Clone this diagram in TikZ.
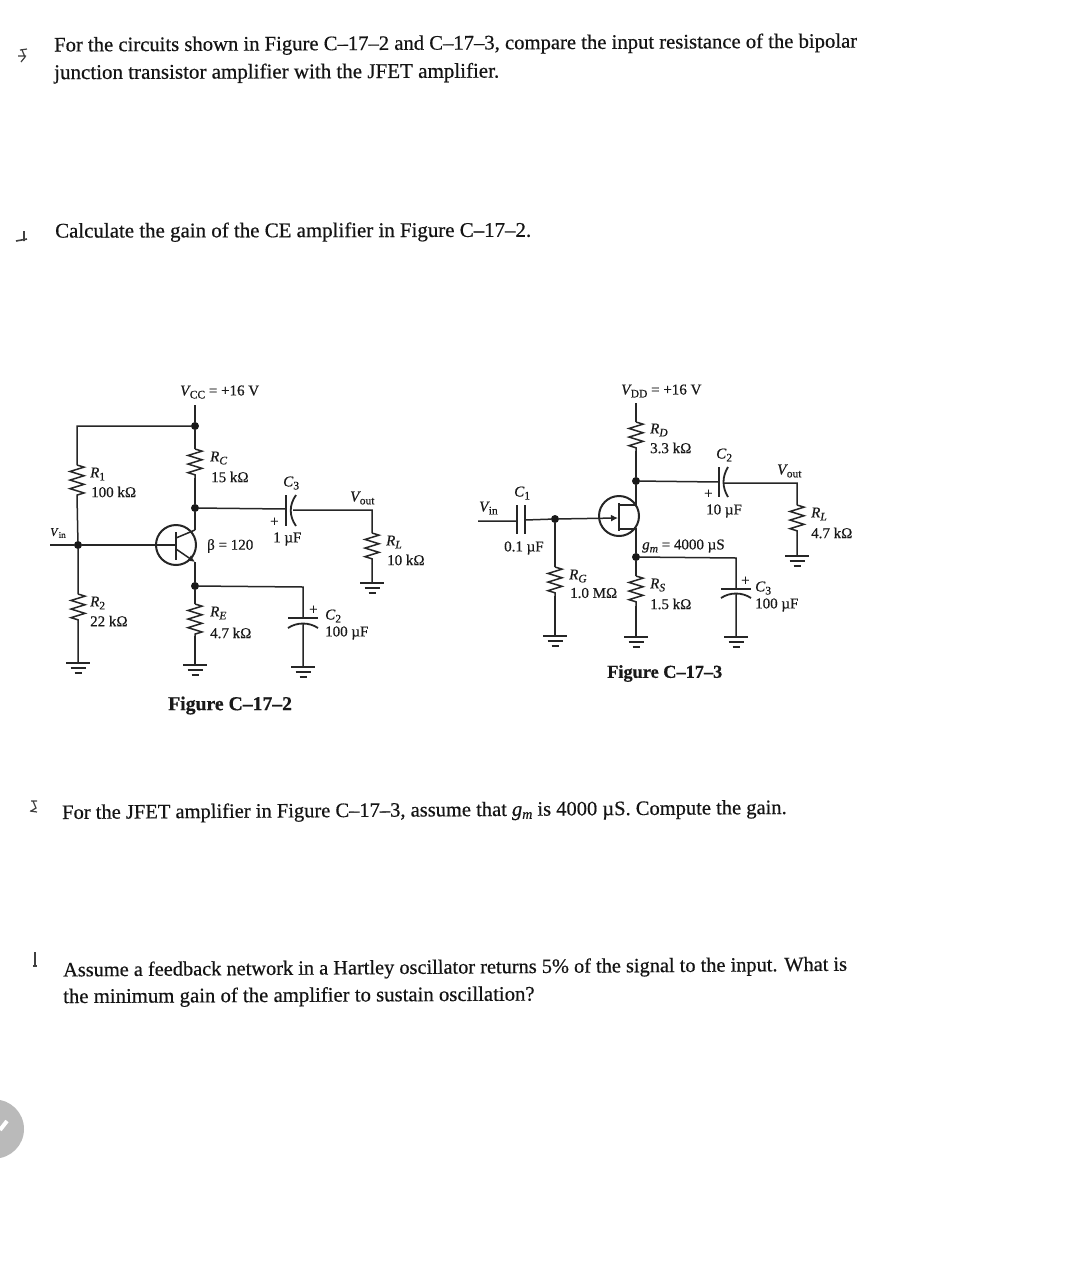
\documentclass[tikz,border=0pt]{standalone}
\usepackage{fontspec}
\setmainfont[RawFeature={embolden=0.5}]{Liberation Serif}
\usetikzlibrary{decorations.pathmorphing,arrows.meta}
\tikzset{
 x=1pt,y=-1pt,
 wire/.style={line width=1.5pt,line join=miter,black!85},
 res/.style={wire,decorate,decoration={zigzag,segment length=8.6pt,amplitude=7pt}},
 dotj/.style={circle,fill=black!90,inner sep=0pt,minimum size=8pt},
 lab/.style={inner sep=0pt,anchor=west,yshift=-1pt,font=\fontsize{15}{15}\selectfont,black!90},
 figcap/.style={inner sep=0pt,anchor=west,font=\fontsize{19.7}{22}\selectfont\bfseries,black!90},
 body/.style={inner sep=0pt,anchor=west,black!92},
 mark ink/.style={line width=1.2pt,black!75},
 bar/.style={wire,line width=2.8pt},
 plate/.style={wire,line width=1.8pt},
 gate/.style={wire,-{Latex[length=7pt,width=7pt]}},
}
\newcommand{\fs}[1]{\fontsize{#1}{#1}\selectfont}
\newcommand{\sbs}[1]{\raisebox{-3pt}{\fontsize{11.5}{11.5}\selectfont #1}}
\newcommand{\gnd}[1]{%
 \draw[wire,line width=1.7pt] ([xshift=-12pt]#1) -- ([xshift=12pt]#1);
 \draw[wire,line width=1.7pt] ([xshift=-7.5pt,yshift=-5pt]#1) -- ([xshift=7.5pt,yshift=-5pt]#1);
 \draw[wire,line width=1.7pt] ([xshift=-3.5pt,yshift=-10pt]#1) -- ([xshift=3.5pt,yshift=-10pt]#1);}
\newcommand{\vres}[2]{\draw[res] (#1) -- (#2);}
\begin{document}
\begin{tikzpicture}
\useasboundingbox (0,0) rectangle (1080,1262);
\fill[white] (0,0) rectangle (1080,1262);
% phone-overlay button
\fill[black!27] (-5.5,1129) circle (29.5);
\draw[white,line width=4pt] (0,1130) -- (7,1121);
% margin marks
\draw[mark ink] (20,50) -- (27,49) (22,50) -- (25,57) -- (21,62) (18,56) -- (26,56);
\draw[mark ink,line width=1.6pt] (16,241) -- (27,239) (24,231) -- (24,241);
\draw[mark ink] (31,801) -- (37,801) (33,801) -- (36,808) -- (31,811) (30,811) -- (37,812);
\draw[mark ink] (35,952) -- (35,965) (33,966) -- (37,966);
% text
\node[body,rotate=0.28] (t1a) at (54,46.5) {\fs{20.65}For the circuits shown in Figure C--17--2 and C--17--3, compare the input resistance of the bipolar};
\node[body,rotate=0.2] (t1b) at (54,74) {\fs{21}junction transistor amplifier with the JFET amplifier.};
\node[body,rotate=0.1] (t2) at (55,232.5) {\fs{20.9}Calculate the gain of the CE amplifier in Figure C--17--2.};
\node[body,rotate=0.4] (t3) at (62,814) {\fs{20.5}For the JFET amplifier in Figure C--17--3, assume that \textit{g\raisebox{-3pt}{\fs{14}m}} is 4000 µS. Compute the gain.};
\node[body,rotate=0.42] (t4a) at (63,971.5) {\fs{20.35}Assume a feedback network in a Hartley oscillator returns 5\% of the signal to the input. What is};
\node[body,rotate=0.3] (t4b) at (63,998) {\fs{20.75}the minimum gain of the amplifier to sustain oscillation?};
% ---- Left circuit ----
\coordinate (vcct) at (195,405);
\node[dotj] (jt) at (195,426) {};
\node[dotj] (jc) at (195,508) {};
\node[dotj] (je) at (195,586) {};
\node[dotj] (jb) at (78,545) {};
\coordinate (tl) at (77,426);
\coordinate (vin) at (50,545);
\coordinate (r1a) at (77,465); \coordinate (r1b) at (77,496);
\coordinate (r2a) at (78,594); \coordinate (r2b) at (78,622);
\coordinate (g1) at (78,663);
\coordinate (rca) at (195,449); \coordinate (rcb) at (195,478);
\coordinate (rea) at (195,604); \coordinate (reb) at (195,636);
\coordinate (g2) at (195,665);
\node[draw,wire,line width=2pt,circle,minimum size=40pt,inner sep=0pt] (q1) at (176,545) {};
\coordinate (cc) at (195,530); \coordinate (ee) at (195,562);
\draw[wire] (vcct) -- (jt) -- (rca) (rcb) -- (jc) -- (cc);
\draw[wire] (jt) -- (tl) -- (r1a) (r1b) -- (jb) -- (r2a) (r2b) -- (g1);
\draw[wire] (vin) -- (jb) -- (176,545);
\vres{r1a}{r1b} \vres{r2a}{r2b} \vres{rca}{rcb} \vres{rea}{reb}
\draw[bar] (176,532) -- (176,560);
\draw[wire] (176,538) -- (cc);
\draw[gate] (176,549) -- (ee);
\draw[wire] (ee) -- (je) -- (rea) (reb) -- (g2);
\gnd{g1} \gnd{g2}
% C3, RL
\coordinate (c3a) at (286,509); \coordinate (c3b) at (293,510);
\coordinate (vo1) at (372,510);
\coordinate (rla) at (372,533); \coordinate (rlb) at (372,563); \coordinate (g3) at (372,583);
\draw[wire] (jc) -- (c3a) (c3b) -- (vo1) -- (rla) (rlb) -- (g3);
\draw[plate] (286,495) -- (286,526);
\draw[plate] (296,495) .. controls (289,505) and (289,516) .. (296,526);
\vres{rla}{rlb} \gnd{g3}
% C2
\coordinate (c2t) at (303,587); \coordinate (g4) at (303,667);
\draw[wire] (je) -- (c2t) -- (303,618) (303,624) -- (g4);
\draw[plate] (288,618) -- (318,618);
\draw[plate] (288,628) .. controls (297,622) and (309,622) .. (318,628);
\gnd{g4}
% labels left
\node[lab] (lvcc) at (180,391) {\textit{V}\kern-1pt\sbs{CC} = +16 V};
\node[lab] (lr1) at (90,473) {\textit{R}\sbs{1}};
\node[lab] (lr1v) at (91,491) {100 kΩ};
\node[lab,font=\fs{12}] (lvi) at (50,532) {\textit{V}\raisebox{-2pt}{\fs{9}in}};
\node[lab] (lr2) at (90,602) {\textit{R}\sbs{2}};
\node[lab] (lr2v) at (90,620) {22 kΩ};
\node[lab] (lrc) at (210,457) {\textit{R\sbs{C}}};
\node[lab] (lrcv) at (211,476) {15 kΩ};
\node[lab] (lb) at (207,545) {β = 120};
\node[lab] (lre) at (210,612) {\textit{R\sbs{E}}};
\node[lab] (lrev) at (210,632) {4.7 kΩ};
\node[lab] (lc3) at (283,482) {\textit{C}\sbs{3}};
\node[lab] (lp3) at (270,521) {+};
\node[lab] (lc3v) at (273,538) {1 µF};
\node[lab] (lvo) at (350,497) {\textit{V}\kern-1pt\sbs{out}};
\node[lab] (lrl) at (386,541) {\textit{R\sbs{L}}};
\node[lab] (lrlv) at (387,559) {10 kΩ};
\node[lab] (lp2) at (309,609) {+};
\node[lab] (lc2) at (325,615) {\textit{C}\sbs{2}};
\node[lab] (lc2v) at (325,632) {100 µF};
\node[figcap] (f1) at (168,705.5) {Figure C--17--2};
% ---- Right circuit ----
\coordinate (vddt) at (636,403);
\coordinate (rda) at (636,422); \coordinate (rdb) at (636,451);
\node[dotj] (jd) at (636,481) {};
\node[dotj] (js) at (636,557) {};
\node[dotj] (jg) at (555,519) {};
\coordinate (rsa) at (636,576); \coordinate (rsb) at (636,606); \coordinate (g5) at (636,637);
\coordinate (rga) at (555,567); \coordinate (rgb) at (555,596); \coordinate (g6) at (555,636);
\coordinate (vn) at (478,521);
\node[draw,wire,line width=2pt,circle,minimum size=40pt,inner sep=0pt] (q2) at (619,516) {};
\draw[wire] (vddt) -- (rda) (rdb) -- (jd) -- (636,505) -- (619,505);
\draw[wire] (619,529) -- (636,529) -- (js) -- (rsa) (rsb) -- (g5);
\vres{rda}{rdb} \vres{rsa}{rsb} \vres{rga}{rgb}
\draw[bar] (619,503) -- (619,531);
\draw[gate] (jg) -- (618,518);
\draw[wire] (jg) -- (rga) (rgb) -- (g6);
\draw[wire] (vn) -- (517,521) (525,520) -- (jg);
\draw[plate] (517,505) -- (517,534) (525,505) -- (525,534);
\gnd{g5} \gnd{g6}
% C2 right, RL
\coordinate (vo2) at (797,483);
\coordinate (r2la) at (797,505); \coordinate (r2lb) at (797,535); \coordinate (g7) at (797,556);
\draw[wire] (jd) -- (719,482) (724,483) -- (vo2) -- (r2la) (r2lb) -- (g7);
\draw[plate] (719,467) -- (719,497);
\draw[plate] (728,467) .. controls (722,477) and (722,487) .. (728,497);
\vres{r2la}{r2lb} \gnd{g7}
% C3 right
\coordinate (c3t) at (736,558); \coordinate (g8) at (736,637);
\draw[wire] (js) -- (c3t) -- (736,589) (736,594) -- (g8);
\draw[plate] (721,589) -- (751,589);
\draw[plate] (721,598) .. controls (730,592) and (742,592) .. (751,598);
\gnd{g8}
% labels right
\node[lab] (lvdd) at (621,390) {\textit{V}\kern-1pt\sbs{DD} = +16 V};
\node[lab] (lrd) at (650,429) {\textit{R\sbs{D}}};
\node[lab] (lrdv) at (650,447) {3.3 kΩ};
\node[lab] (lc22) at (716,454) {\textit{C}\sbs{2}};
\node[lab] (lp22) at (704,493) {+};
\node[lab] (lc22v) at (706,510) {10 µF};
\node[lab] (lvo2) at (777,470) {\textit{V}\kern-1pt\sbs{out}};
\node[lab] (lrl2) at (811,513) {\textit{R\sbs{L}}};
\node[lab] (lrl2v) at (811,532) {4.7 kΩ};
\node[lab] (lgm) at (642,545) {\textit{g\sbs{m}} = 4000 µS};
\node[lab] (lrs) at (650,584) {\textit{R\sbs{S}}};
\node[lab] (lrsv) at (650,603) {1.5 kΩ};
\node[lab] (lp33) at (741,580) {+};
\node[lab] (lc33) at (755,587) {\textit{C}\sbs{3}};
\node[lab] (lc33v) at (755,604) {100 µF};
\node[lab] (lvn) at (479,507) {\textit{V}\kern-1pt\sbs{in}};
\node[lab] (lc1) at (514,492) {\textit{C}\sbs{1}};
\node[lab] (lc1v) at (504,547) {0.1 µF};
\node[lab] (lrg) at (569,575) {\textit{R\sbs{G}}};
\node[lab] (lrgv) at (570,592) {1.0 MΩ};
\node[figcap,font=\fs{18.3}\bfseries] (f2) at (607,673.5) {Figure C--17--3};
\end{tikzpicture}
\end{document}
